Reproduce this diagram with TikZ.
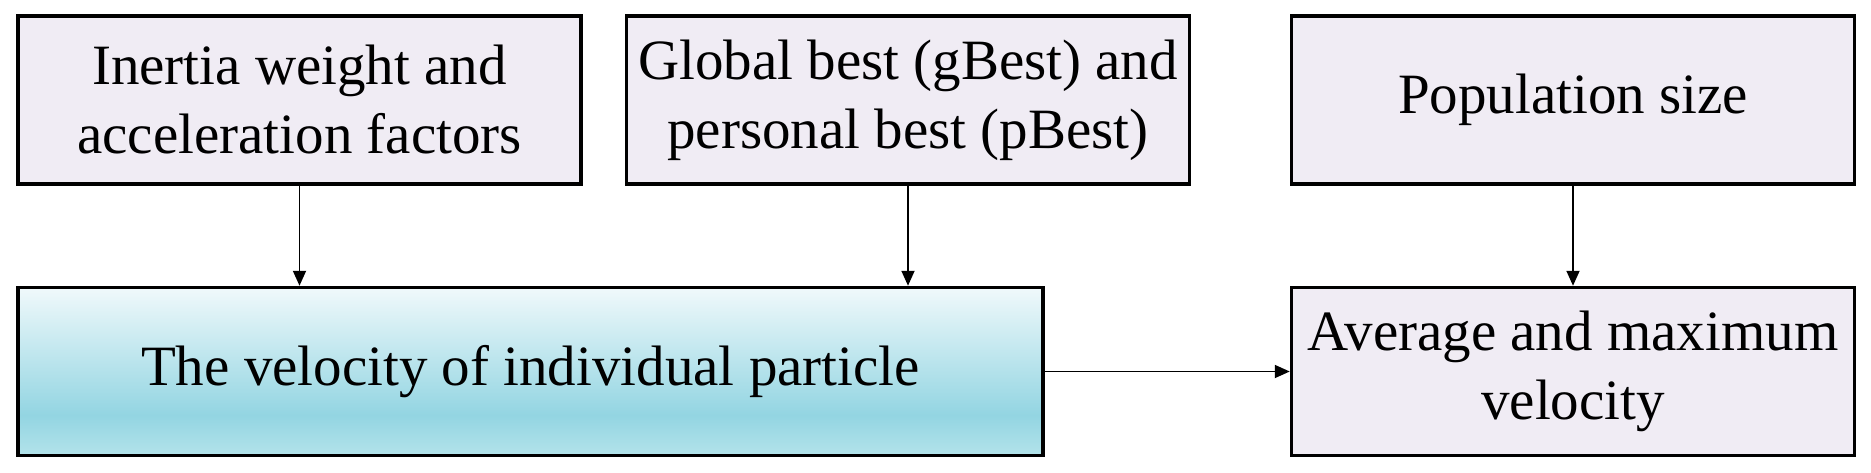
\documentclass[tikz,border=0pt]{standalone}
\usepackage{fontspec}
\setmainfont{Liberation Serif}
\usetikzlibrary{arrows.meta}
\definecolor{boxfill}{HTML}{F0ECF4}
\definecolor{gtop}{HTML}{F0F9FB}
\definecolor{gmid}{HTML}{93D5E2}
\definecolor{gbot}{HTML}{B3E3EA}
\pgfdeclareverticalshading{bluegrad}{100bp}{color(0bp)=(gbot); color(25bp)=(gbot); color(37bp)=(gmid); color(75bp)=(gtop); color(100bp)=(gtop)}
\tikzset{
  box/.style={draw=black, line width=3.5pt, fill=boxfill, minimum height=168pt,
    inner sep=0pt, align=center, font=\fontsize{57}{69}\selectfont},
  bluebox/.style={box, shading=bluegrad},
  conn/.style={line width=1.8pt, -{Triangle[length=15pt,width=13pt]}}
}
\begin{document}
\begin{tikzpicture}[x=1pt,y=-1pt]
\useasboundingbox (0,0) rectangle (1871,473);
\node[box, minimum width=563pt] (A) at (299.5,100) {Inertia weight and\\acceleration factors};
\node[box, minimum width=563pt] (B) at (908,100) {Global best (gBest) and\\personal best (pBest)};
\node[box, minimum width=563pt] (C) at (1573,100) {Population size};
\node[bluebox, minimum width=1025pt] (D) at (530.5,371.5) {The velocity of individual particle};
\node[box, minimum width=563pt] (E) at (1573,371.5) {Average and maximum\\velocity};
\draw[conn] (A.south) -- (A.south |- D.north);
\draw[conn] (B.south) -- (B.south |- D.north);
\draw[conn] (C.south) -- (E.north);
\draw[conn] (D.east) -- (E.west);
\end{tikzpicture}
\end{document}
